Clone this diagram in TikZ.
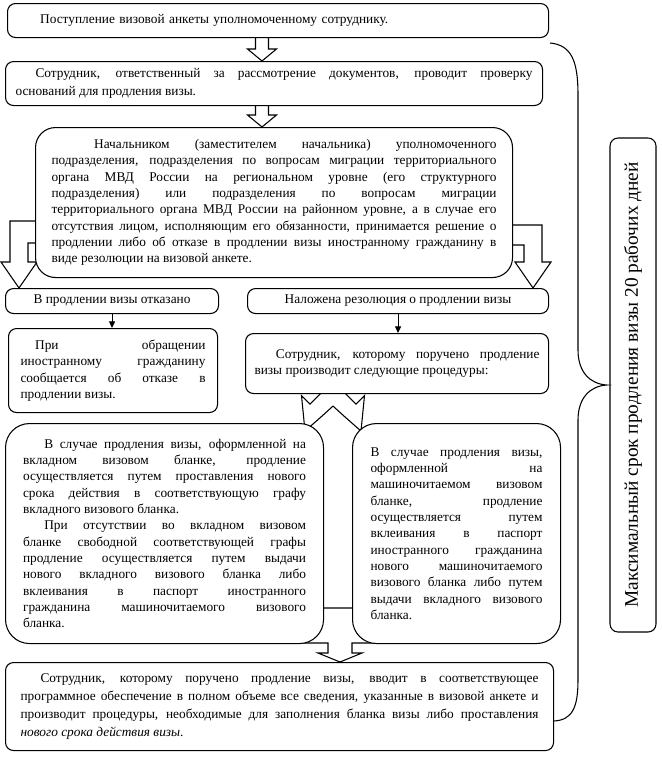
\documentclass[tikz,border=0pt]{standalone}
\usepackage{fontspec}
\usepackage{graphicx}
\setmainfont{Liberation Serif}
\usetikzlibrary{positioning,arrows.meta,calc,backgrounds}
\hyphenpenalty=10000
\exhyphenpenalty=10000
\hbadness=10000
\tolerance=10000
\newcommand{\abzac}[1][15pt]{\noindent\hspace*{#1}}
\tikzset{
  blok/.style={draw, line width=0.8pt, rounded corners=6pt, fill=white, inner xsep=0pt, inner ysep=0pt, anchor=north west, align=justify, font=\fontsize{10}{12.25}\selectfont},
  strelka/.style={draw, line width=0.8pt, fill=white, line join=miter},
  tonk/.style={draw, line width=0.8pt, -{Triangle[length=5pt,width=4.5pt]}}
}

\begin{document}
\begin{tikzpicture}[x=0.75pt,y=-0.75pt]
  \useasboundingbox (0,0) rectangle (661,757);
  \node[blok, minimum width=405.75pt, minimum height=25.5pt, text width=390.75pt, align=left] (postup) at (7,3) {\abzac[17pt]Поступление визовой анкеты уполномоченному сотруднику.};
  \node[blok, minimum width=402.75pt, minimum height=33pt, text width=387.75pt, font=\fontsize{10}{13.5}\selectfont] (proverka) at (5,61) {\abzac Сотрудник, ответственный за рассмотрение документов, проводит проверку\linebreak оснований для продления визы.};
  \node[blok, rounded corners=15pt, minimum width=357.75pt, minimum height=112.5pt, text width=333.75pt] (reshenie) at (35,127) {\abzac[32pt]Начальником (заместителем начальника) уполномоченного\linebreak подразделения, подразделения по вопросам миграции территориального\linebreak органа МВД России на региональном уровне (его структурного\linebreak подразделения) или подразделения по вопросам миграции\linebreak территориального органа МВД России на районном уровне, а в случае его\linebreak отсутствия лицом, исполняющим его обязанности, принимается решение о\linebreak продлении либо об отказе в продлении визы иностранному гражданину в\linebreak виде резолюции на визовой анкете.};
  \node[blok, align=center, minimum width=159.75pt, minimum height=18.75pt] (otkaz) at (5,288) {В продлении визы отказано};
  \node[blok, align=center, minimum width=225.75pt, minimum height=18.75pt] (rezol) at (247,288) {Наложена резолюция о продлении визы};
  \node[blok, minimum width=156.75pt, minimum height=63pt, text width=138.75pt] (soobsh) at (8,328) {\abzac[11pt]При обращении\linebreak иностранному гражданину\linebreak сообщается об отказе в\linebreak продлении визы.};
  \node[blok, minimum width=227.25pt, minimum height=45pt, text width=213.75pt] (proced) at (245,333) {\abzac[16pt]Сотрудник, которому поручено продление\linebreak визы производит следующие процедуры:};
  \node[blok, rounded corners=18pt, minimum width=238.5pt, minimum height=165pt, text width=212.25pt] (vklad) at (5,423) {\abzac[16pt]В случае продления визы, оформленной на\linebreak вкладном визовом бланке, продление\linebreak осуществляется путем проставления нового\linebreak срока действия в соответствующую графу\linebreak вкладного визового бланка.\par
    \abzac[16pt]При отсутствии во вкладном визовом\linebreak бланке свободной соответствующей графы\linebreak продление осуществляется путем выдачи\linebreak нового вкладного визового бланка либо\linebreak вклеивания в паспорт иностранного\linebreak гражданина машиночитаемого визового\linebreak бланка.};
  \node[blok, rounded corners=18pt, minimum width=156pt, minimum height=165pt, text width=129pt] (mashin) at (352,423) {\noindent В случае продления визы,\linebreak оформленной на\linebreak машиночитаемом визовом\linebreak бланке, продление\linebreak осуществляется путем\linebreak вклеивания в паспорт\linebreak иностранного гражданина\linebreak нового машиночитаемого\linebreak визового бланка либо путем\linebreak выдачи вкладного визового\linebreak бланка.\par\vspace*{16pt}};
  \node[blok, minimum width=411pt, minimum height=66pt, text width=388.5pt, font=\fontsize{10}{13.5}\selectfont] (vvod) at (5,662) {\abzac Сотрудник, которому поручено продление визы, вводит в соответствующее\linebreak программное обеспечение в полном объеме все сведения, указанные в визовой анкете и\linebreak производит процедуры, необходимые для заполнения бланка визы либо проставления\linebreak \textit{нового срока действия визы}.};
  \node[blok, anchor=center, align=center, minimum width=34.5pt, minimum height=370.5pt, font=\fontsize{14.5}{16}\selectfont] (srok) at (633,385) {\rotatebox{90}{Максимальный срок продления визы 20 рабочих дней}};

  % block arrows behind the boxes
  \begin{pgfonlayer}{background}
    \draw[strelka] ($(proverka.north west)+(257,0)$) -- ++(-14.5,-12) -- ++(8,0) -- ++(0,-15) -- ++(13,0) -- ++(0,15) -- ++(8,0) -- cycle;
    \draw[strelka] ($(reshenie.north west)+(227,0)$) -- ++(-14.5,-12) -- ++(8,0) -- ++(0,-15) -- ++(13,0) -- ++(0,15) -- ++(8,0) -- cycle;
    \draw[strelka] ($(otkaz.north west)+(14,0)$) -- ++(-18,-26) -- ++(9,0) -- ++(0,-41) -- ++(35,0) -- ++(0,22) -- ++(-17,0) -- ++(0,19) -- ++(9,0) -- cycle;
    \draw[strelka] ($(rezol.north west)+(286,0)$) -- ++(18,-26) -- ++(-9,0) -- ++(0,-37) -- ++(-40,0) -- ++(0,20) -- ++(22,0) -- ++(0,17) -- ++(-9,0) -- cycle;
    \draw[strelka, shift={(proced.south west)}] (88,-13) -- (65,10) -- (56.5,1.5) -- (60,37) -- (77,22) -- (88,12) -- (99,22) -- (116,37) -- (119.5,1.5) -- (111,10) -- cycle;
    \draw[strelka] ($(vvod.north west)+(335,0)$) -- ++(-22,-9) -- ++(10,0) -- ++(0,-10) -- ++(-31,0) -- ++(0,-35) -- ++(86,0) -- ++(0,35) -- ++(-31,0) -- ++(0,10) -- ++(10,0) -- cycle;
  \end{pgfonlayer}

  \draw[tonk] (otkaz.south) -- (otkaz.south |- soobsh.north);
  \draw[tonk] (rezol.south) -- (rezol.south |- proced.north);

  % brace to the time limit
  \coordinate (skobaA) at (550,43);
  \coordinate (skobaB) at (554,721);
  \draw[line width=0.8pt] (skobaA) .. controls (572,45) and (578,62) .. (578,95) -- (578,350) .. controls (578,372) and (590,384) .. ([xshift=-2pt]srok.west) .. controls (590,386) and (578,398) .. (578,420) -- (578,680) .. controls (578,708) and (572,720) .. (skobaB);
\end{tikzpicture}
\end{document}
